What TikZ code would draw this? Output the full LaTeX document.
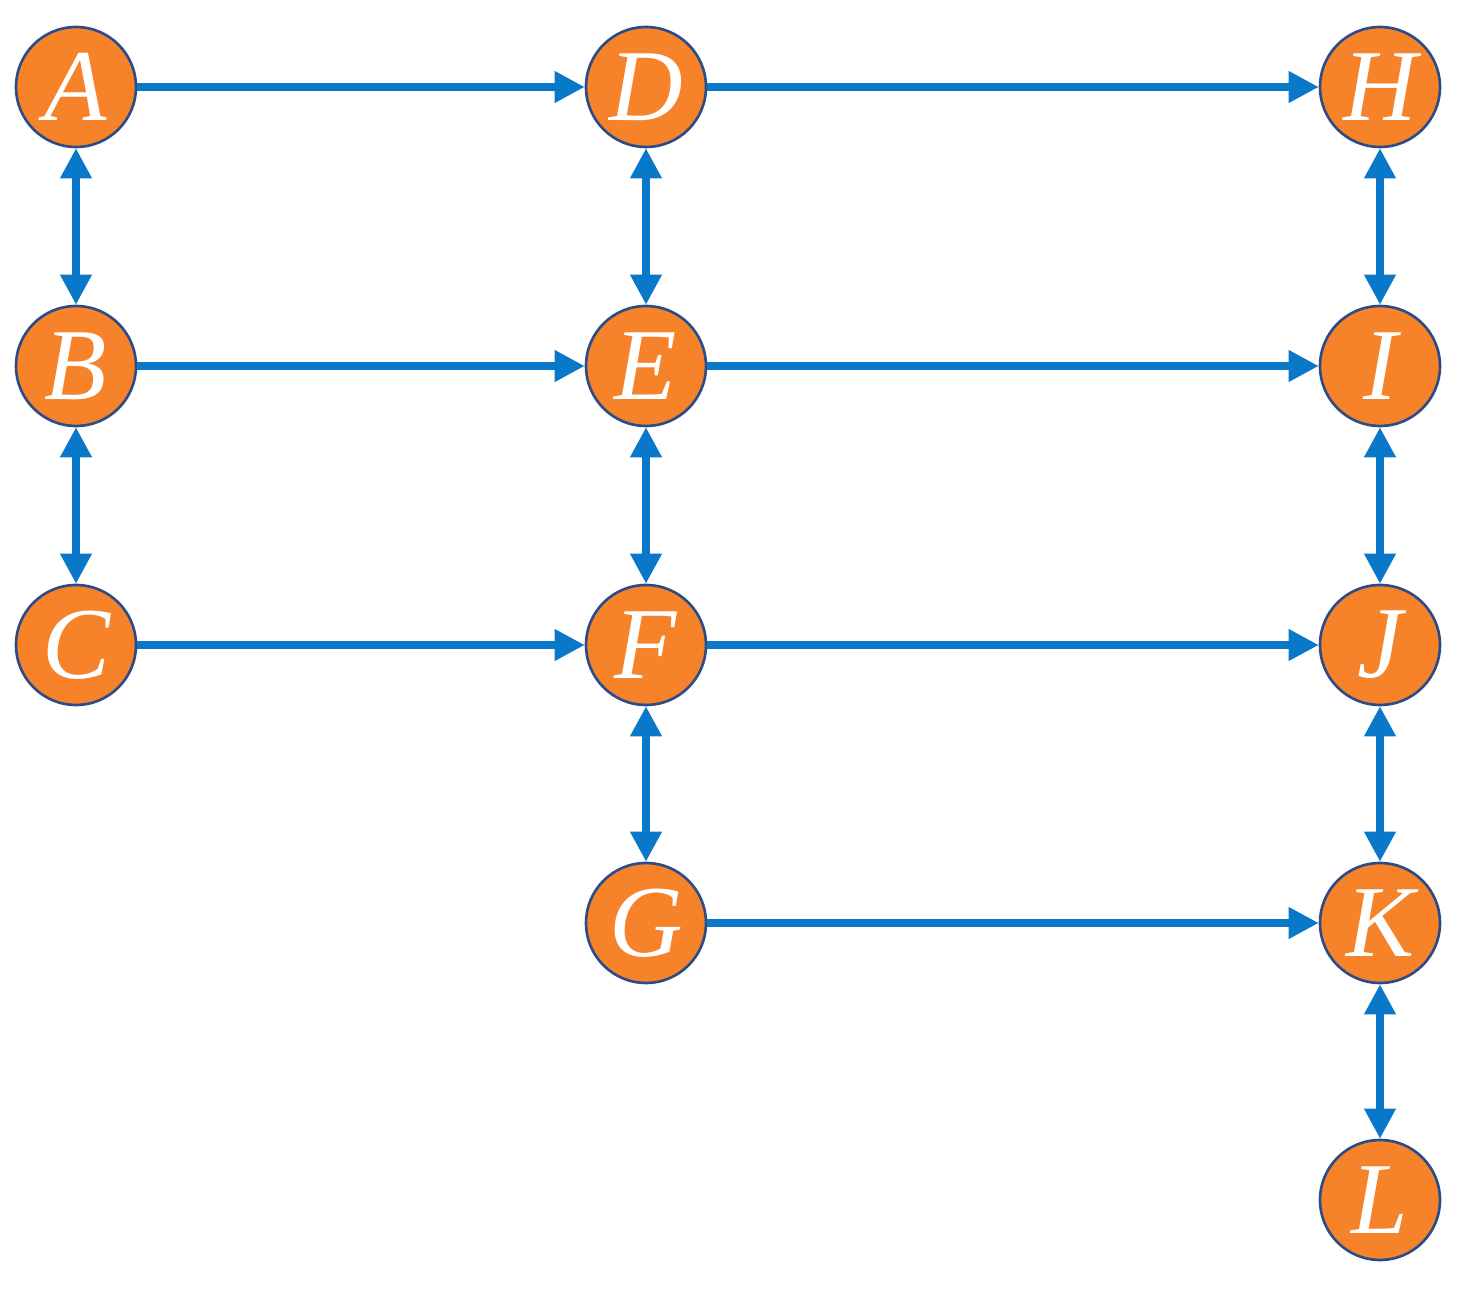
\documentclass[tikz,border=0pt]{standalone}
\usepackage{fontspec}
\setmainfont{Liberation Serif}
\usetikzlibrary{arrows.meta}
\definecolor{nodeor}{HTML}{F6822A}
\definecolor{nodebd}{HTML}{2B4C86}
\definecolor{arrbl}{HTML}{0A78C8}
\begin{document}
\begin{tikzpicture}[x=0.02cm,y=-0.02cm,
  vtx/.style={circle,fill=nodeor,draw=nodebd,line width=1.5pt,minimum size=2.4cm,inner sep=0pt,text=white,font=\fontsize{58}{60}\selectfont\itshape},
  conn/.style={draw=arrbl,line width=4pt,-{Triangle[length=0.6cm,width=0.6cm]}},
  bconn/.style={draw=arrbl,line width=4pt,{Triangle[length=0.6cm,width=0.6cm]}-{Triangle[length=0.6cm,width=0.6cm]}}]
\useasboundingbox (0,0) rectangle (1465,1293);
\node[vtx] (A) at (76,87) {A};
\node[vtx] (D) at (646,87) {D};
\node[vtx] (H) at (1380,87) {H};
\node[vtx] (B) at (76,366) {B};
\node[vtx] (E) at (646,366) {E};
\node[vtx] (I) at (1380,366) {I};
\node[vtx] (C) at (76,645) {C};
\node[vtx] (F) at (646,645) {F};
\node[vtx] (J) at (1380,645) {J};
\node[vtx] (G) at (646,923) {G};
\node[vtx] (K) at (1380,923) {K};
\node[vtx] (L) at (1380,1200) {L};
\draw[conn] (A) -- (D); \draw[conn] (D) -- (H);
\draw[conn] (B) -- (E); \draw[conn] (E) -- (I);
\draw[conn] (C) -- (F); \draw[conn] (F) -- (J);
\draw[conn] (G) -- (K);
\draw[bconn] (A) -- (B); \draw[bconn] (B) -- (C);
\draw[bconn] (D) -- (E); \draw[bconn] (E) -- (F); \draw[bconn] (F) -- (G);
\draw[bconn] (H) -- (I); \draw[bconn] (I) -- (J); \draw[bconn] (J) -- (K); \draw[bconn] (K) -- (L);
\end{tikzpicture}
\end{document}
